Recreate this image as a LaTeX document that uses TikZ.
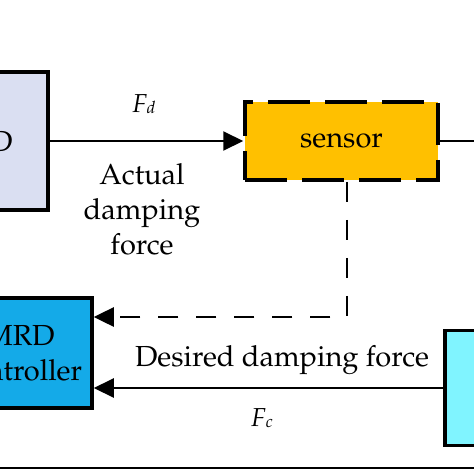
\documentclass[tikz,border=0pt]{standalone}
\usepackage[T1]{fontenc}
\usepackage{mathpazo}
\usepackage[svgnames, dvipsnames]{xcolor}
\usetikzlibrary{calc, arrows.meta}
\definecolor{mrdfill}{RGB}{218,223,242}
\definecolor{sensorfill}{RGB}{255,192,0}
\definecolor{ctrlfill}{RGB}{20,170,232}
\definecolor{plantfill}{RGB}{128,244,255}
\newcommand{\forcesym}[2]{{\fontsize{26}{30}\selectfont\textit{#1}}\raisebox{-1pt}{\fontsize{17}{17}\selectfont\textit{#2}}}
\tikzset{>={Triangle[length=20pt,width=19pt]},
  block/.style={draw, line width=3.5pt, rectangle, inner sep=0pt},
  sensorbox/.style={draw, line width=3.5pt, rectangle, inner sep=0pt, dash pattern=on 42pt off 15pt},
  signal/.style={line width=2pt},
  feedback/.style={line width=2.5pt, dash pattern=on 20pt off 18pt},
  txt/.style={font=\fontsize{29}{35}\selectfont, inner sep=0pt},
  sym/.style={inner sep=0pt}
}

\begin{document}
\begin{tikzpicture}[x=1pt, y=-1pt]
\useasboundingbox (0,0) rectangle (474,474);
\clip (0,0) rectangle (474,474);
% blocks
\node[block, fill=mrdfill, minimum width=140pt, minimum height=138pt, txt] (mrd) at (-22,141) {MRD};
\node[sensorbox, fill=sensorfill, minimum width=193pt, minimum height=78pt, txt] (sensor) at (341.5,141) {sensor};
\node[block, fill=ctrlfill, minimum width=144pt, minimum height=110pt, txt, align=center] (ctrl) at (20,353) {MRD\\controller};
\node[block, fill=plantfill, minimum width=120pt, minimum height=115pt] (plant) at (505,388) {};
\coordinate (out) at (480,141);
\coordinate (tap) at (347,317);
% signals
\draw[signal, ->] (mrd.east) -- (sensor.west);
\draw[signal] (sensor.east) -- (out);
\draw[feedback, ->] (tap |- sensor.south) -- (tap) -- (tap -| ctrl.east);
\draw[signal, ->] (plant.west) -- (plant.west -| ctrl.east);
% labels
\node[sym] (fd) at (144,104) {\forcesym{F}{d}};
\node[txt, align=center] (actual) at (142,209) {Actual\\damping\\force};
\node[txt] (desired) at (282,360) {Desired damping force};
\node[sym] (fc) at (262,418) {\forcesym{F}{c}};
% frame
\draw[line width=2pt] (0,468) -- (474,468);
\end{tikzpicture}
\end{document}
